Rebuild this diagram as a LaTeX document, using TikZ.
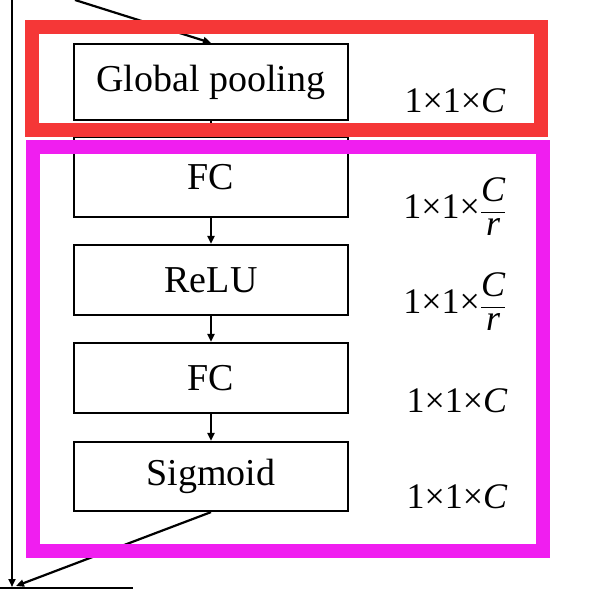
\documentclass[tikz,border=0pt]{standalone}
\usepackage{fontspec}
\setmainfont{Liberation Serif}
\usetikzlibrary{arrows.meta}
\begin{document}
\begin{tikzpicture}[x=1pt,y=-1pt,
  blk/.style={draw,line width=2.2pt,minimum width=274pt,inner sep=0pt,font=\fontsize{38}{40}\selectfont},
  lab/.style={font=\fontsize{36}{40}\selectfont},
  arr/.style={line width=2.2pt,-{Triangle[length=8pt,width=7pt]}}]
\useasboundingbox (0,0) rectangle (603,589);
\node[blk,minimum height=76pt] (gp) at (211,82) {Global pooling};
\node[blk,minimum height=80pt] (fc1) at (211,177) {FC};
\node[blk,minimum height=70pt] (relu) at (211,280) {ReLU};
\node[blk,minimum height=70pt] (fc2) at (211,378) {FC};
\node[blk,minimum height=69pt] (sig) at (211,476.5) {Sigmoid};
\coordinate (t) at (75,0);
\coordinate (lt) at (12,0);
\coordinate (lb) at (12,587);
\coordinate (bl) at (0,588);
\coordinate (br) at (133,588);
\coordinate (e) at (16,586);
\draw[arr] (t) -- (gp.north);
\draw[line width=2.2pt] (gp.south) -- (fc1.north);
\draw[arr] (fc1.south) -- (relu.north);
\draw[arr] (relu.south) -- (fc2.north);
\draw[arr] (fc2.south) -- (sig.north);
\draw[arr] (sig.south) -- (e);
\draw[arr] (lt) -- (lb);
\draw[line width=2.2pt] (bl) -- (br);
\draw[line width=14pt,color={rgb,255:red,245;green,55;blue,55}] (32,27) rectangle (541,130);
\draw[line width=14pt,color={rgb,255:red,240;green,30;blue,240}] (33,147) rectangle (543,551);
\node[lab] (l1) at (455,101) {1×1×\textit{C}};
\node[lab] (l2) at (455,207) {1×1×$\displaystyle\frac{\mbox{\textit{C}}}{\mbox{\textit{r}}}$};
\node[lab] (l3) at (455,302) {1×1×$\displaystyle\frac{\mbox{\textit{C}}}{\mbox{\textit{r}}}$};
\node[lab] (l4) at (457,401) {1×1×\textit{C}};
\node[lab] (l5) at (457,497) {1×1×\textit{C}};
\end{tikzpicture}
\end{document}
